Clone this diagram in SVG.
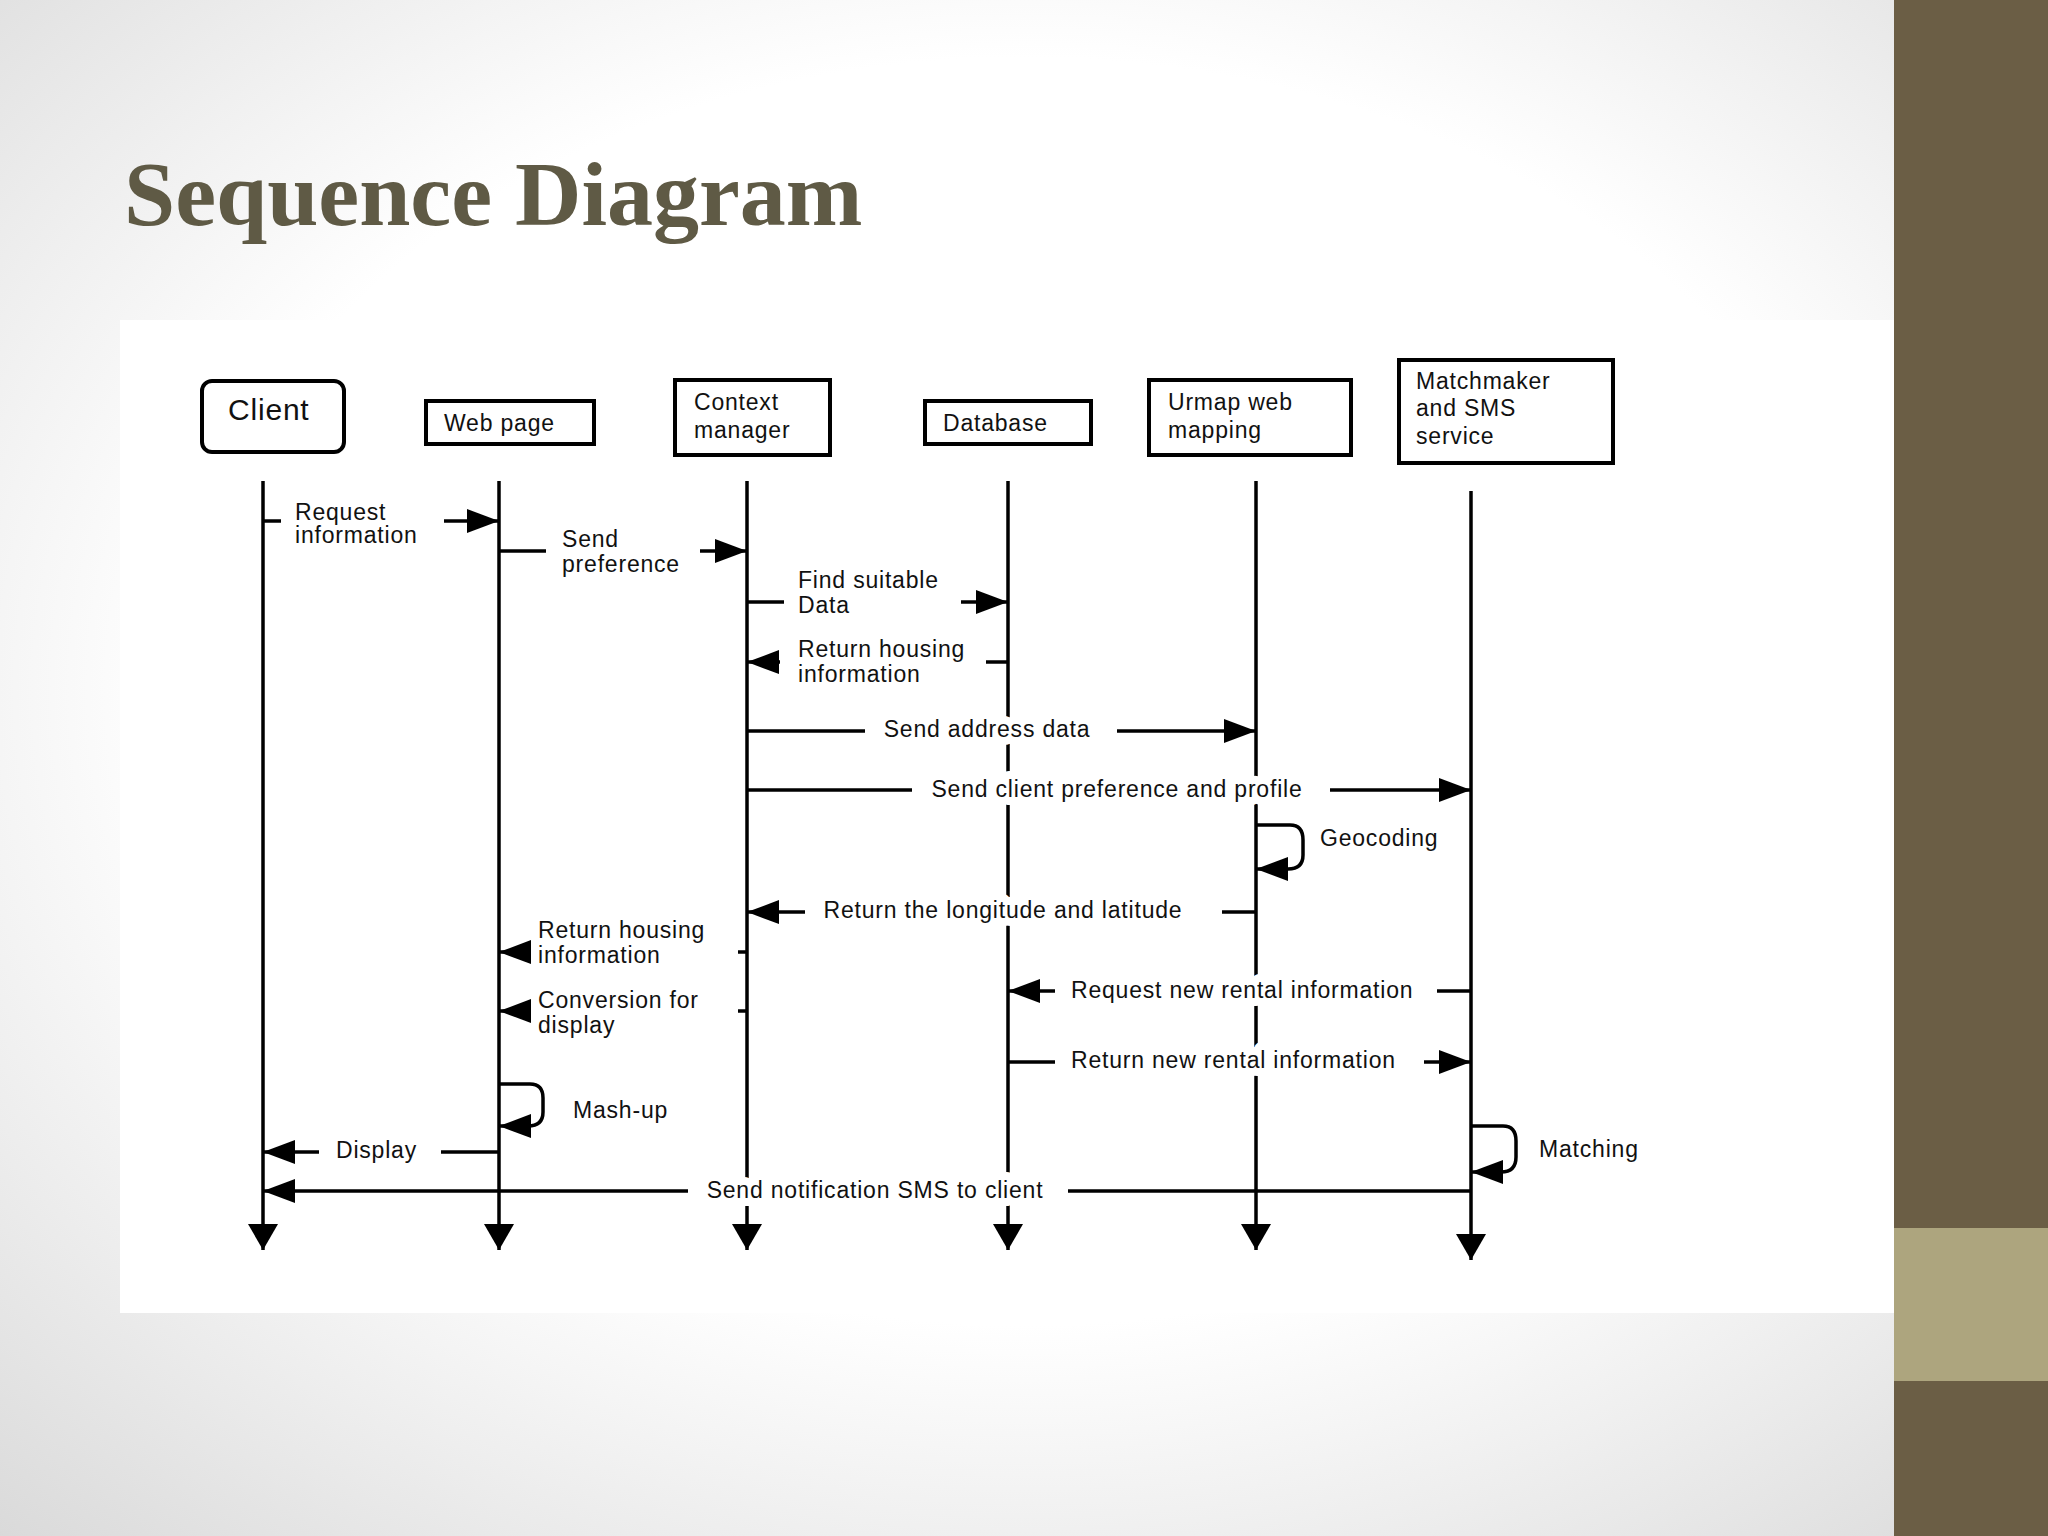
<svg xmlns="http://www.w3.org/2000/svg" width="2048" height="1536" viewBox="0 0 2048 1536">
<defs>
<radialGradient id="bg" cx="0.5" cy="0.45" r="0.75">
<stop offset="0.55" stop-color="#ffffff"/><stop offset="1" stop-color="#d9d9d9"/>
</radialGradient>
<marker id="ah" markerUnits="userSpaceOnUse" markerWidth="34" markerHeight="26" refX="32" refY="12" orient="auto"><path d="M0,0 L32,12 L0,24 Z" fill="#000"/></marker>
<marker id="end" markerUnits="userSpaceOnUse" markerWidth="30" markerHeight="28" refX="15" refY="26" orient="0"><path d="M0,0 L30,0 L15,26 Z" fill="#000"/></marker>
</defs>
<style>
.ln{stroke:#000;stroke-width:3.5;fill:none}
.box{fill:#fff;stroke:#000;stroke-width:4}
.t{font-family:"Liberation Sans",Arial,sans-serif;font-size:23px;letter-spacing:0.8px;fill:#111}
.m{font-family:"Liberation Sans",Arial,sans-serif;font-size:23px;letter-spacing:0.8px;fill:#111}
.w{font-family:"Liberation Sans",Arial,sans-serif;font-size:23px;letter-spacing:0.8px;fill:#111;stroke:#fff;stroke-width:16;stroke-linejoin:round;paint-order:stroke}
.h{font-family:"Liberation Sans",Arial,sans-serif;font-size:30px;letter-spacing:0.8px;fill:#111}
</style>
<rect width="2048" height="1536" fill="url(#bg)"/>
<rect x="120" y="320" width="1774" height="993" fill="#fff"/>
<rect x="1894" y="0" width="154" height="1536" fill="#6b5e45"/>
<rect x="1894" y="1228" width="154" height="153" fill="#ada57e"/>
<text x="124" y="225" font-family="Liberation Serif,serif" font-weight="bold" font-size="92" fill="#5f5a45">Sequence Diagram</text>
<g id="connectors">
<line class="ln" x1="263" y1="481" x2="263" y2="1250" marker-end="url(#end)"/>
<line class="ln" x1="499" y1="481" x2="499" y2="1250" marker-end="url(#end)"/>
<line class="ln" x1="747" y1="481" x2="747" y2="1250" marker-end="url(#end)"/>
<line class="ln" x1="1008" y1="481" x2="1008" y2="1250" marker-end="url(#end)"/>
<line class="ln" x1="1256" y1="481" x2="1256" y2="1250" marker-end="url(#end)"/>
<line class="ln" x1="1471" y1="491" x2="1471" y2="1260" marker-end="url(#end)"/>
<line class="ln" x1="263" y1="521" x2="281" y2="521"/><line class="ln" x1="444" y1="521" x2="499" y2="521" marker-end="url(#ah)"/>
<line class="ln" x1="499" y1="551" x2="546" y2="551"/><line class="ln" x1="700" y1="551" x2="747" y2="551" marker-end="url(#ah)"/>
<line class="ln" x1="747" y1="602" x2="784" y2="602"/><line class="ln" x1="961" y1="602" x2="1008" y2="602" marker-end="url(#ah)"/>
<line class="ln" x1="1008" y1="662" x2="986" y2="662"/><line class="ln" x1="780" y1="662" x2="747" y2="662" marker-end="url(#ah)"/>
<line class="ln" x1="747" y1="731" x2="865" y2="731"/><line class="ln" x1="1117" y1="731" x2="1256" y2="731" marker-end="url(#ah)"/>
<line class="ln" x1="747" y1="790" x2="912" y2="790"/><line class="ln" x1="1330" y1="790" x2="1471" y2="790" marker-end="url(#ah)"/>
<path class="ln" d="M1256,825 L1290,825 Q1303,825 1303,840 L1303,855 Q1303,869 1288,869 L1256,869" marker-end="url(#ah)"/>
<line class="ln" x1="1256" y1="912" x2="1222" y2="912"/><line class="ln" x1="805" y1="912" x2="747" y2="912" marker-end="url(#ah)"/>
<line class="ln" x1="747" y1="952" x2="738" y2="952"/><line class="ln" x1="522" y1="952" x2="499" y2="952" marker-end="url(#ah)"/>
<line class="ln" x1="747" y1="1011" x2="738" y2="1011"/><line class="ln" x1="522" y1="1011" x2="499" y2="1011" marker-end="url(#ah)"/>
<line class="ln" x1="1471" y1="991" x2="1437" y2="991"/><line class="ln" x1="1055" y1="991" x2="1008" y2="991" marker-end="url(#ah)"/>
<line class="ln" x1="1008" y1="1062" x2="1055" y2="1062"/><line class="ln" x1="1424" y1="1062" x2="1471" y2="1062" marker-end="url(#ah)"/>
<path class="ln" d="M499,1084 L530,1084 Q543,1084 543,1098 L543,1112 Q543,1126 528,1126 L499,1126" marker-end="url(#ah)"/>
<path class="ln" d="M1471,1126 L1503,1126 Q1516,1126 1516,1141 L1516,1157 Q1516,1172 1501,1172 L1471,1172" marker-end="url(#ah)"/>
<line class="ln" x1="499" y1="1152" x2="441" y2="1152"/><line class="ln" x1="319" y1="1152" x2="263" y2="1152" marker-end="url(#ah)"/>
<line class="ln" x1="1471" y1="1191" x2="1068" y2="1191"/><line class="ln" x1="688" y1="1191" x2="263" y2="1191" marker-end="url(#ah)"/>
</g>
<g id="labels">
<text class="m" x="295" y="520">Request</text><text class="m" x="295" y="543">information</text>
<text class="m" x="562" y="547">Send</text><text class="m" x="562" y="572">preference</text>
<text class="m" x="798" y="588">Find suitable</text><text class="m" x="798" y="613">Data</text>
<text class="m" x="798" y="657">Return housing</text><text class="m" x="798" y="682">information</text>
<text class="w" x="987" y="737" text-anchor="middle">Send address data</text>
<text class="w" x="1117" y="797" text-anchor="middle">Send client preference and profile</text>
<text class="m" x="1320" y="846">Geocoding</text>
<text class="w" x="1003" y="918" text-anchor="middle">Return the longitude and latitude</text>
<text class="m" x="538" y="938">Return housing</text><text class="m" x="538" y="963">information</text>
<text class="m" x="538" y="1008">Conversion for</text><text class="m" x="538" y="1033">display</text>
<text class="w" x="1071" y="998">Request new rental information</text>
<text class="w" x="1071" y="1068">Return new rental information</text>
<text class="m" x="573" y="1118">Mash-up</text>
<text class="m" x="1539" y="1157">Matching</text>
<text class="m" x="336" y="1158">Display</text>
<text class="w" x="875" y="1198" text-anchor="middle">Send notification SMS to client</text>
</g>
<g id="client"><rect class="box" x="202" y="381" width="142" height="71" rx="10"/><text class="h" x="228" y="420">Client</text></g>
<g id="webpage"><rect class="box" x="426" y="401" width="168" height="43"/><text class="t" x="444" y="431">Web page</text></g>
<g id="context"><rect class="box" x="675" y="380" width="155" height="75"/><text class="t" x="694" y="410">Context</text><text class="t" x="694" y="438">manager</text></g>
<g id="database"><rect class="box" x="925" y="401" width="166" height="43"/><text class="t" x="943" y="431">Database</text></g>
<g id="urmap"><rect class="box" x="1149" y="380" width="202" height="75"/><text class="t" x="1168" y="410">Urmap web</text><text class="t" x="1168" y="438">mapping</text></g>
<g id="matchmaker"><rect class="box" x="1399" y="360" width="214" height="103"/><text class="t" x="1416" y="389">Matchmaker</text><text class="t" x="1416" y="416">and SMS</text><text class="t" x="1416" y="444">service</text></g>
</svg>
